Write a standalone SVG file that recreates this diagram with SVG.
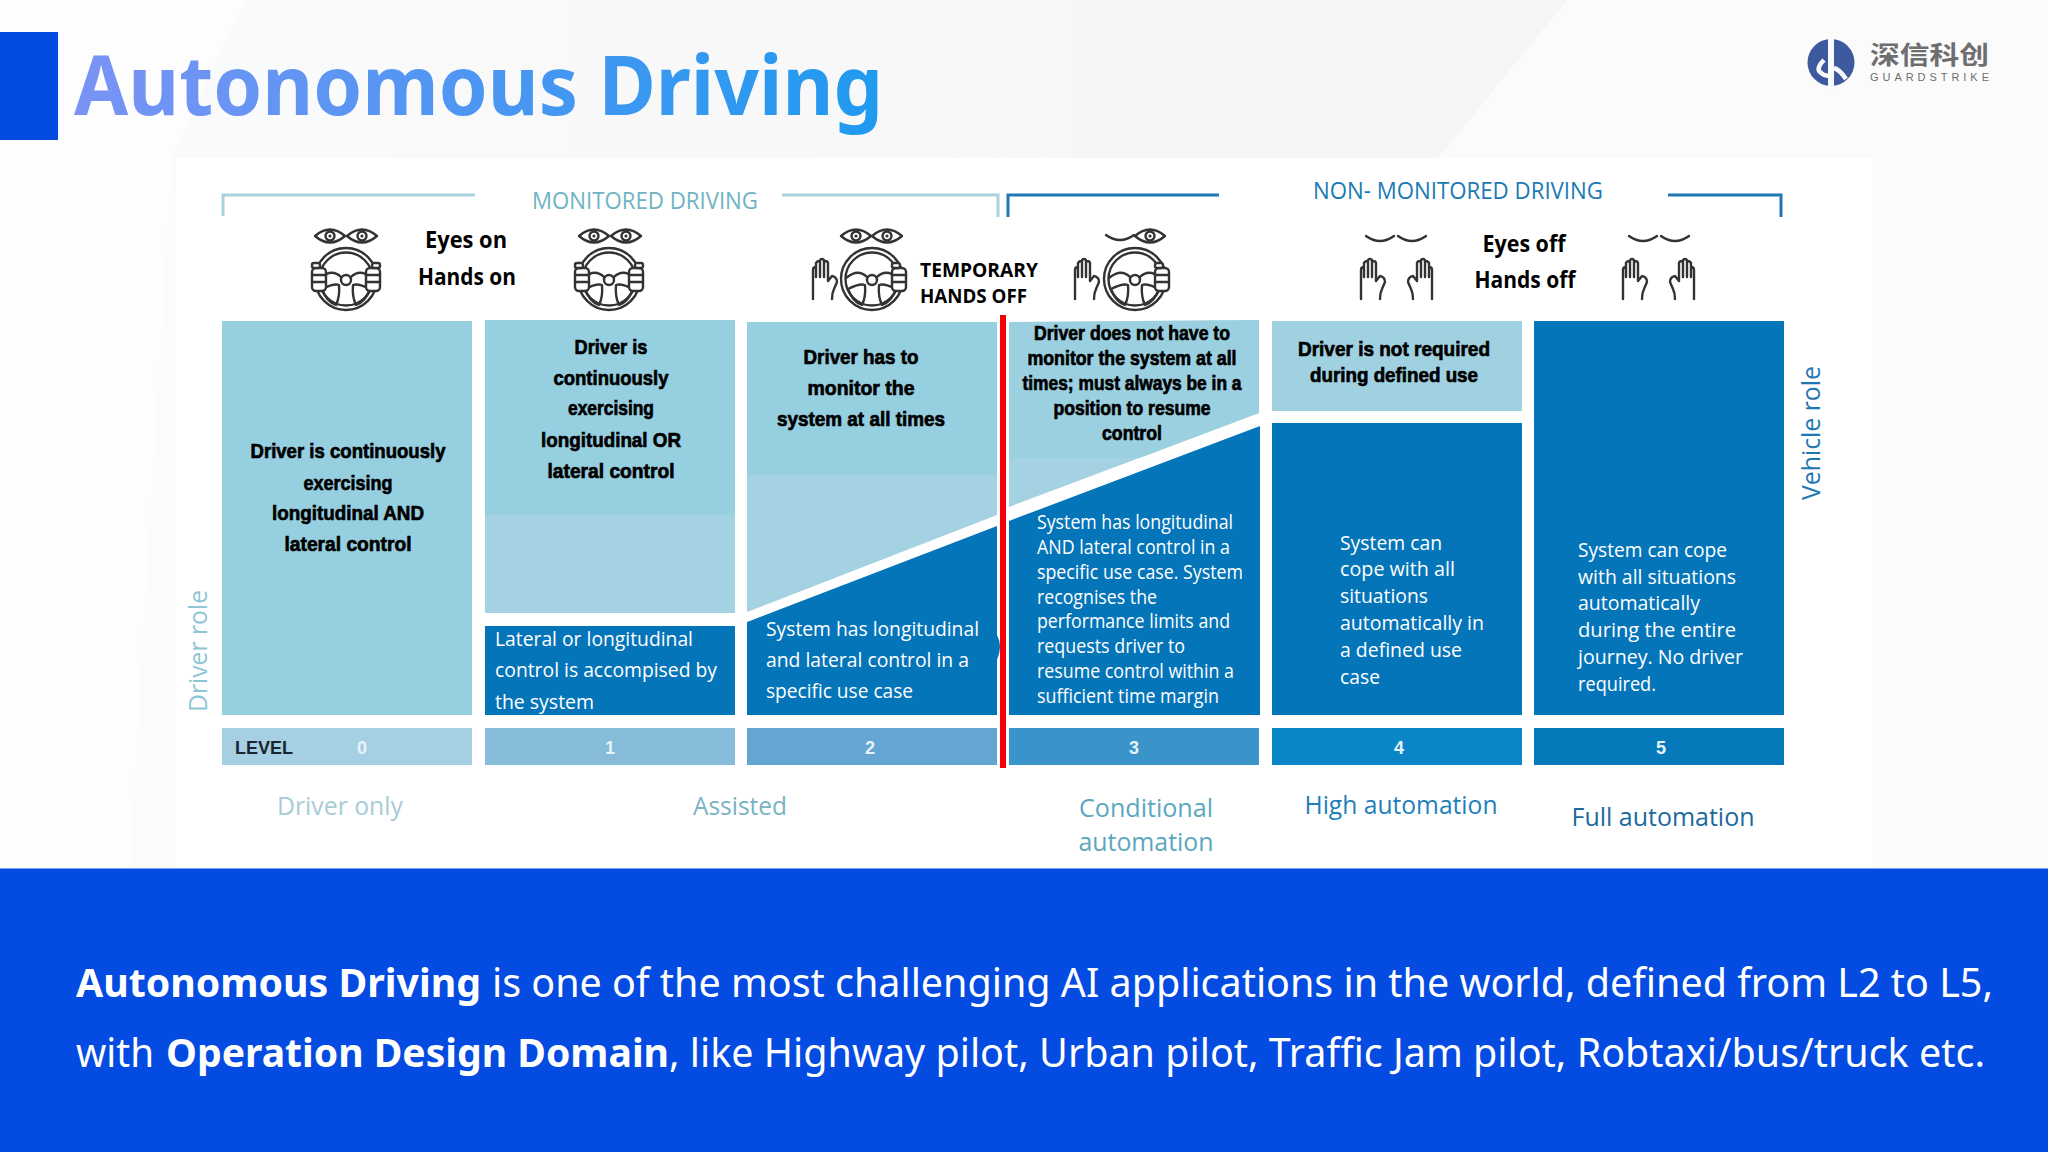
<svg xmlns="http://www.w3.org/2000/svg" width="2048" height="1152" viewBox="0 0 2048 1152">
<style>
.b{font-family:"Liberation Sans","Noto Sans",sans-serif;font-weight:700;fill:#000;stroke:#000;stroke-width:.7;text-anchor:middle;font-size:21px}
.c{font-size:19.500px}
.h{font-family:"Open Sans","Noto Sans",sans-serif;font-weight:700;fill:#000;text-anchor:middle;font-size:23px}
.ts{text-anchor:start;font-size:20px}
.w{font-family:"Open Sans","Noto Sans",sans-serif;fill:#fff;font-size:20px}
.l{font-family:"Open Sans","Noto Sans",sans-serif;font-size:25px;text-anchor:middle}
.s{font-size:23px}
.v{text-anchor:start}
.n{font-family:"Liberation Sans",sans-serif;font-weight:700;fill:#e8f3f9;font-size:18px;text-anchor:middle}
.t{font-family:"Noto Sans",sans-serif;fill:#fff;font-size:40px}
.tb{font-weight:700}
.i{fill:none;stroke:#333;stroke-width:2.400;stroke-linecap:round;stroke-linejoin:round}
.g{fill:#fff;stroke:#333;stroke-width:2.400}
.dk{fill:#0575ba}
.li{fill:#96cfe0}
.lo{fill:#a4d2e3}
</style>
<defs>
<linearGradient id="tg" x1="0" y1="0" x2="1" y2="0"><stop offset="0" stop-color="#7a93f5"/><stop offset="1" stop-color="#1f9aef"/></linearGradient>
<linearGradient id="bg" x1="0" y1="0" x2="1" y2="0"><stop offset="0" stop-color="#fafafb"/><stop offset="1" stop-color="#f4f5f6"/></linearGradient>
<g id="eye"><path class="i" d="M-15 0Q0-13 15 0Q0 13-15 0Z"/><circle class="i" r="4.500"/><circle r="1.600" fill="#333"/></g>
<path id="shut" class="i" d="M-14-3Q0 7 14-3"/>
<g id="wheel"><circle class="i" r="31"/><circle class="i" r="26.500"/><circle class="i" cy="1" r="5"/><path class="i" d="M-26-1Q-14-11-5-2M26-1Q14-11 5-2M-24 10Q-12 4-7 6Q-6 18-10 26Q-20 22-24 10ZM24 10Q12 4 7 6Q6 18 10 26Q20 22 24 10Z"/></g>
<g id="grip"><rect class="g" x="-7" y="-11" width="14" height="23" rx="4"/><path class="i" d="M-7-4H7M-7 3H7"/><rect class="g" x="-7" y="-16" width="8" height="5" rx="2"/></g>
<path id="hand" class="i" d="M-12 20V-9Q-12-12-9-12V-16Q-7-19-5-17V-19Q-3-21-1-19V-17Q2-19 3-16V2L7-3Q12-2 12 3L9 10Q7 14 7 20M-9-12V-2M-5-17V-2M-1-19V-2M3-16V2"/>
</defs>

<rect width="2048" height="1152" fill="#fbfbfc"/>
<polygon points="0,0 245,0 172,158 130,868 0,868" fill="#fdfdfe"/>
<polygon points="245,0 415,0 312,158 172,158" fill="#f9fafb"/>
<polygon points="415,0 1567,0 1438,158 312,158" fill="url(#bg)"/>
<polygon points="1872,350 2048,143 2048,868 1872,868" fill="#fcfcfd"/>
<rect x="176" y="158" width="1696" height="710" fill="#fff"/>

<g id="header">
<rect x="0" y="32" width="58" height="108" fill="#044be2"/>
<text x="74" y="115" font-family="Noto Sans,sans-serif" font-weight="700" font-size="83" fill="url(#tg)" textLength="809" lengthAdjust="spacingAndGlyphs">Autonomous Driving</text>
</g>

<g id="logo">
<circle cx="1831" cy="62.500" r="23.500" fill="#3e5a9e"/>
<rect x="1828" y="36" width="6" height="53" fill="#f9fafb"/>
<path d="M1824 60Q1816 68 1820 72Q1824 76 1829 76M1834 68Q1840 70 1846 79" fill="none" stroke="#f9fafb" stroke-width="4.500"/>
<text x="1870" y="64" font-family="Noto Sans CJK SC,sans-serif" font-weight="700" font-size="25" fill="#6e6e70" textLength="119" lengthAdjust="spacingAndGlyphs">深信科创</text>
<text x="1870" y="81" font-family="Liberation Sans,sans-serif" font-size="11" fill="#6e6e70" textLength="119">GUARDSTRIKE</text>
</g>

<g id="brackets" fill="none" stroke-width="3">
<path d="M223 216V195H475M782 195H998V217" stroke="#a8d2de"/>
<path d="M1008 217V195H1219M1668 195H1781V217" stroke="#1f78b4"/>
</g>
<text class="l s" x="645" y="209" fill="#6fb3c4" textLength="226" lengthAdjust="spacingAndGlyphs">MONITORED DRIVING</text>
<text class="l s" x="1458" y="199" fill="#1a7ab5" textLength="290" lengthAdjust="spacingAndGlyphs">NON- MONITORED DRIVING</text>

<g id="icons">
<g transform="translate(346,279)"><use href="#wheel"/><use href="#grip" x="-27"/><use href="#grip" transform="translate(27,0) scale(-1,1)"/></g>
<use href="#eye" x="330" y="236"/><use href="#eye" x="362" y="236"/>
<g transform="translate(609,279)"><use href="#wheel"/><use href="#grip" x="-27"/><use href="#grip" transform="translate(27,0) scale(-1,1)"/></g>
<use href="#eye" x="594" y="236"/><use href="#eye" x="626" y="236"/>
<g transform="translate(872,279)"><use href="#wheel"/><use href="#grip" x="27"/></g>
<use href="#hand" x="825" y="279"/>
<use href="#eye" x="856" y="236"/><use href="#eye" x="887" y="236"/>
<g transform="translate(1135,279)"><use href="#wheel"/><use href="#grip" x="27"/></g>
<use href="#hand" x="1087" y="279"/>
<use href="#shut" x="1120" y="238"/><use href="#eye" x="1150" y="236"/>
<use href="#hand" x="1373" y="279"/><use href="#hand" transform="translate(1420,279) scale(-1,1)"/>
<use href="#shut" x="1380" y="239"/><use href="#shut" x="1412" y="239"/>
<use href="#hand" x="1635" y="279"/><use href="#hand" transform="translate(1682,279) scale(-1,1)"/>
<use href="#shut" x="1643" y="239"/><use href="#shut" x="1675" y="239"/>
</g>
<text class="h" x="466" y="248" textLength="82" lengthAdjust="spacingAndGlyphs">Eyes on</text>
<text class="h" x="467" y="285" textLength="98" lengthAdjust="spacingAndGlyphs">Hands on</text>
<text class="h ts" x="920" y="277" textLength="118" lengthAdjust="spacingAndGlyphs">TEMPORARY</text>
<text class="h ts" x="920" y="303" textLength="107" lengthAdjust="spacingAndGlyphs">HANDS OFF</text>
<text class="h" x="1524" y="252" textLength="83" lengthAdjust="spacingAndGlyphs">Eyes off</text>
<text class="h" x="1525" y="288" textLength="101" lengthAdjust="spacingAndGlyphs">Hands off</text>

<g id="level-0">
<rect class="li" x="222" y="321" width="250" height="394"/>
<text class="b" x="348" y="458" textLength="195" lengthAdjust="spacingAndGlyphs">Driver is continuously</text>
<text class="b" x="348" y="490" textLength="89" lengthAdjust="spacingAndGlyphs">exercising</text>
<text class="b" x="348" y="520" textLength="152" lengthAdjust="spacingAndGlyphs">longitudinal AND</text>
<text class="b" x="348" y="551" textLength="127" lengthAdjust="spacingAndGlyphs">lateral control</text>
<rect x="222" y="728" width="250" height="37" fill="#a5d0e4"/>
<text x="235" y="754" font-family="Liberation Sans,sans-serif" font-weight="700" font-size="18" fill="#1a2530" textLength="58" lengthAdjust="spacingAndGlyphs">LEVEL</text>
<text class="n" x="362" y="754">0</text>
<text class="l" x="340" y="815" fill="#a6ccd6" textLength="126" lengthAdjust="spacingAndGlyphs">Driver only</text>
</g>

<g id="level-1">
<rect class="li" x="485" y="320" width="250" height="195"/>
<rect class="lo" x="485" y="515" width="250" height="98"/>
<text class="b" x="611" y="354" textLength="73" lengthAdjust="spacingAndGlyphs">Driver is</text>
<text class="b" x="611" y="385" textLength="115" lengthAdjust="spacingAndGlyphs">continuously</text>
<text class="b" x="611" y="415" textLength="86" lengthAdjust="spacingAndGlyphs">exercising</text>
<text class="b" x="611" y="447" textLength="140" lengthAdjust="spacingAndGlyphs">longitudinal OR</text>
<text class="b" x="611" y="478" textLength="127" lengthAdjust="spacingAndGlyphs">lateral control</text>
<rect class="dk" x="485" y="626" width="250" height="89"/>
<text class="w" x="495" y="646" textLength="198" lengthAdjust="spacingAndGlyphs">Lateral or longitudinal</text>
<text class="w" x="495" y="677" textLength="222" lengthAdjust="spacingAndGlyphs">control is accompised by</text>
<text class="w" x="495" y="709" textLength="99" lengthAdjust="spacingAndGlyphs">the system</text>
<rect x="485" y="728" width="250" height="37" fill="#86bbd9"/>
<text class="n" x="610" y="754">1</text>
<text class="l" x="740" y="815" fill="#79b3c3" textLength="94" lengthAdjust="spacingAndGlyphs">Assisted</text>
</g>

<g id="level-2">
<polygon class="lo" points="747,612 997,515 997,322 747,322"/>
<rect class="li" x="747" y="322" width="250" height="153"/>
<polygon class="dk" points="747,622 997,526 997,715 747,715"/>
<path class="dk" d="M997 635Q1003 646 997 660Z"/>
<text class="b" x="861" y="364" textLength="115" lengthAdjust="spacingAndGlyphs">Driver has to</text>
<text class="b" x="861" y="395" textLength="107" lengthAdjust="spacingAndGlyphs">monitor the</text>
<text class="b" x="861" y="426" textLength="168" lengthAdjust="spacingAndGlyphs">system at all times</text>
<text class="w" x="766" y="636" textLength="213" lengthAdjust="spacingAndGlyphs">System has longitudinal</text>
<text class="w" x="766" y="667" textLength="203" lengthAdjust="spacingAndGlyphs">and lateral control in a</text>
<text class="w" x="766" y="698" textLength="147" lengthAdjust="spacingAndGlyphs">specific use case</text>
<rect x="747" y="728" width="250" height="37" fill="#62a6d1"/>
<text class="n" x="870" y="754">2</text>
</g>

<g id="level-3">
<polygon class="lo" points="1009,322 1259,320 1259,413 1009,507"/>
<polygon class="li" points="1009,322 1259,320 1259,413 1140,458 1009,458" opacity=".6"/>
<polygon class="dk" points="1009,521 1260,426 1260,715 1009,715"/>
<text class="b c" x="1132" y="340" textLength="196" lengthAdjust="spacingAndGlyphs">Driver does not have to</text>
<text class="b c" x="1132" y="365" textLength="209" lengthAdjust="spacingAndGlyphs">monitor the system at all</text>
<text class="b c" x="1132" y="390" textLength="219" lengthAdjust="spacingAndGlyphs">times; must always be in a</text>
<text class="b c" x="1132" y="415" textLength="157" lengthAdjust="spacingAndGlyphs">position to resume</text>
<text class="b c" x="1132" y="440" textLength="60" lengthAdjust="spacingAndGlyphs">control</text>
<text class="w" x="1037" y="529" textLength="196" lengthAdjust="spacingAndGlyphs">System has longitudinal</text>
<text class="w" x="1037" y="554" textLength="193" lengthAdjust="spacingAndGlyphs">AND lateral control in a</text>
<text class="w" x="1037" y="579" textLength="206" lengthAdjust="spacingAndGlyphs">specific use case. System</text>
<text class="w" x="1037" y="604" textLength="120" lengthAdjust="spacingAndGlyphs">recognises the</text>
<text class="w" x="1037" y="628" textLength="193" lengthAdjust="spacingAndGlyphs">performance limits and</text>
<text class="w" x="1037" y="653" textLength="148" lengthAdjust="spacingAndGlyphs">requests driver to</text>
<text class="w" x="1037" y="678" textLength="197" lengthAdjust="spacingAndGlyphs">resume control within a</text>
<text class="w" x="1037" y="703" textLength="182" lengthAdjust="spacingAndGlyphs">sufficient time margin</text>
<rect x="1009" y="728" width="250" height="37" fill="#3a93c9"/>
<text class="n" x="1134" y="754">3</text>
<text class="l" x="1146" y="817" fill="#5ba7c0" textLength="134" lengthAdjust="spacingAndGlyphs">Conditional</text>
<text class="l" x="1146" y="851" fill="#5ba7c0" textLength="135" lengthAdjust="spacingAndGlyphs">automation</text>
</g>

<g id="level-4">
<rect x="1272" y="321" width="250" height="90" fill="#a0d1e0"/>
<text class="b" x="1394" y="356" textLength="192" lengthAdjust="spacingAndGlyphs">Driver is not required</text>
<text class="b" x="1394" y="382" textLength="168" lengthAdjust="spacingAndGlyphs">during defined use</text>
<rect class="dk" x="1272" y="423" width="250" height="292"/>
<text class="w" x="1340" y="550" textLength="102" lengthAdjust="spacingAndGlyphs">System can</text>
<text class="w" x="1340" y="576" textLength="115" lengthAdjust="spacingAndGlyphs">cope with all</text>
<text class="w" x="1340" y="603" textLength="88" lengthAdjust="spacingAndGlyphs">situations</text>
<text class="w" x="1340" y="630" textLength="144" lengthAdjust="spacingAndGlyphs">automatically in</text>
<text class="w" x="1340" y="657" textLength="122" lengthAdjust="spacingAndGlyphs">a defined use</text>
<text class="w" x="1340" y="684" textLength="40" lengthAdjust="spacingAndGlyphs">case</text>
<rect x="1272" y="728" width="250" height="37" fill="#0a86c6"/>
<text class="n" x="1399" y="754">4</text>
<text class="l" x="1401" y="814" fill="#1f7fbb" textLength="193" lengthAdjust="spacingAndGlyphs">High automation</text>
</g>

<g id="level-5">
<rect class="dk" x="1534" y="321" width="250" height="394"/>
<text class="w" x="1578" y="557" textLength="149" lengthAdjust="spacingAndGlyphs">System can cope</text>
<text class="w" x="1578" y="584" textLength="158" lengthAdjust="spacingAndGlyphs">with all situations</text>
<text class="w" x="1578" y="610" textLength="122" lengthAdjust="spacingAndGlyphs">automatically</text>
<text class="w" x="1578" y="637" textLength="158" lengthAdjust="spacingAndGlyphs">during the entire</text>
<text class="w" x="1578" y="664" textLength="165" lengthAdjust="spacingAndGlyphs">journey. No driver</text>
<text class="w" x="1578" y="691" textLength="78" lengthAdjust="spacingAndGlyphs">required.</text>
<rect x="1534" y="728" width="250" height="37" fill="#0579b9"/>
<text class="n" x="1661" y="754">5</text>
<text class="l" x="1663" y="826" fill="#1c6a9c" textLength="183" lengthAdjust="spacingAndGlyphs">Full automation</text>
</g>

<rect id="divider" x="1000" y="315" width="6" height="453" fill="#f40009"/>
<text class="l v" transform="translate(207,712) rotate(-90)" fill="#8fc6d6" textLength="122" lengthAdjust="spacingAndGlyphs">Driver role</text>
<text class="l v" transform="translate(1820,500) rotate(-90)" fill="#1f78b4" textLength="134" lengthAdjust="spacingAndGlyphs">Vehicle role</text>

<g id="footer">
<rect x="0" y="868.500" width="2048" height="284" fill="#044be2"/>
<text class="t tb" x="76" y="997" textLength="405" lengthAdjust="spacingAndGlyphs">Autonomous Driving</text>
<text class="t" x="492" y="997" textLength="1501" lengthAdjust="spacingAndGlyphs">is one of the most challenging AI applications in the world, defined from L2 to L5,</text>
<text class="t" x="76" y="1067" textLength="78" lengthAdjust="spacingAndGlyphs">with</text>
<text class="t tb" x="166" y="1067" textLength="503" lengthAdjust="spacingAndGlyphs">Operation Design Domain</text>
<text class="t" x="669" y="1067" textLength="1316" lengthAdjust="spacingAndGlyphs">, like Highway pilot, Urban pilot, Traffic Jam pilot, Robtaxi/bus/truck etc.</text>
</g>
</svg>
